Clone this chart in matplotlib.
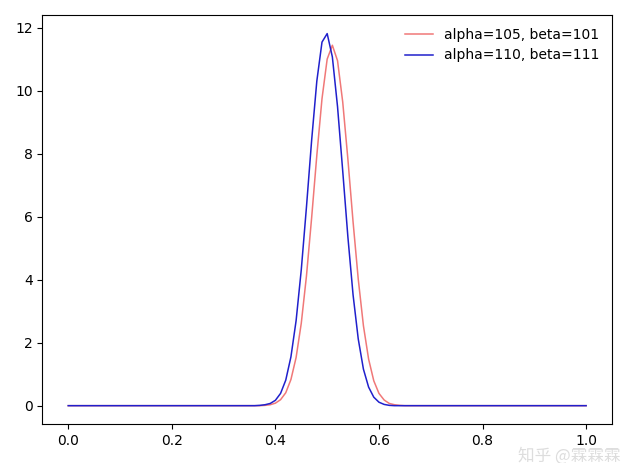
import matplotlib.pyplot as plt

plt.rcParams['font.family'] = ['DejaVu Sans', 'Noto Sans CJK SC']

# values (alpha=105, beta=101)
x_red = [0.0, 0.37, 0.38, 0.39, 0.40, 0.41, 0.42, 0.43, 0.44, 0.45, 0.46, 0.47, 0.48,
         0.49, 0.50, 0.51, 0.52, 0.53, 0.54, 0.55, 0.56, 0.57, 0.58, 0.59,
         0.60, 0.61, 0.62, 0.63, 0.64, 0.65, 1.0]
y_red = [0.0, 0.0, 0.01, 0.03, 0.08, 0.19, 0.41, 0.83, 1.53, 2.62, 4.12, 5.97, 7.95,
         9.75, 11.01, 11.45, 10.96, 9.65, 7.83, 5.84, 4.02, 2.54, 1.48, 0.79,
         0.39, 0.18, 0.07, 0.03, 0.01, 0.0, 0.0]

# alpha=110, beta=111
x_blue = [0.0, 0.36, 0.37, 0.38, 0.39, 0.40, 0.41, 0.42, 0.43, 0.44, 0.45, 0.46, 0.47,
          0.48, 0.49, 0.50, 0.51, 0.52, 0.53, 0.54, 0.55, 0.56, 0.57, 0.58,
          0.59, 0.60, 0.61, 0.62, 0.63, 1.0]
y_blue = [0.0, 0.0, 0.01, 0.03, 0.07, 0.17, 0.39, 0.81, 1.55, 2.70, 4.32, 6.31, 8.43,
          10.31, 11.55, 11.82, 11.08, 9.50, 7.46, 5.36, 3.52, 2.12, 1.16, 0.59,
          0.27, 0.11, 0.04, 0.01, 0.0, 0.0]

fig, ax = plt.subplots(figsize=(6.27, 4.63), dpi=100)
ax.plot(x_red, y_red, color='#f07878', lw=1.1, label='alpha=105, beta=101')
ax.plot(x_blue, y_blue, color='#2020cc', lw=1.1, label='alpha=110, beta=111')
ax.set_yticks([0, 2, 4, 6, 8, 10, 12])
ax.legend(loc='upper right', frameon=False)
fig.tight_layout()
fig.text(0.99, 0.005, '知乎 @霖霖霖', color='#dddddd', fontsize=12, ha='right',
         family=['Noto Sans CJK SC', 'DejaVu Sans'])
fig.savefig('out.png')
